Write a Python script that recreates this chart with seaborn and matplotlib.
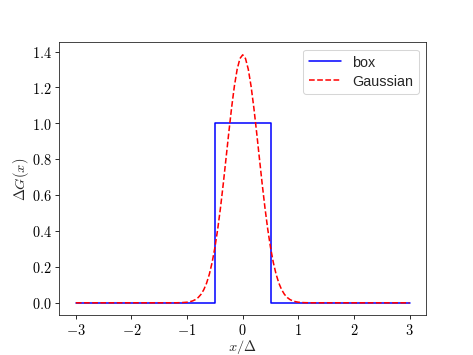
import matplotlib
matplotlib.use("Agg")
import matplotlib.pyplot as plt
import seaborn as sns
import pandas as pd
from matplotlib.ticker import FuncFormatter

# Box filter
box_x = [-3.0, -0.5, -0.5, 0.5, 0.5, 3.0]
box_y = [0.0, 0.0, 1.0, 1.0, 0.0, 0.0]

# Gaussian filter
gauss_x = [-3.0, -1.2, -1.1, -1.0, -0.95, -0.9, -0.85, -0.8, -0.75, -0.7, -0.65, -0.6,
           -0.55, -0.5, -0.45, -0.4, -0.35, -0.3, -0.25, -0.2, -0.15, -0.1, -0.05, 0.0,
           0.05, 0.1, 0.15, 0.2, 0.25, 0.3, 0.35, 0.4, 0.45, 0.5, 0.55, 0.6, 0.65, 0.7,
           0.75, 0.8, 0.85, 0.9, 0.95, 1.0, 1.1, 1.2, 3.0]
gauss_y = [0.0, 0.0002, 0.0010, 0.0034, 0.0062, 0.0107, 0.0181, 0.0297, 0.0473, 0.0731,
           0.1095, 0.1594, 0.2250, 0.3084, 0.4101, 0.5292, 0.6627, 0.8054, 0.9498, 1.0871,
           1.2075, 1.3015, 1.3614, 1.3820, 1.3614, 1.3015, 1.2075, 1.0871, 0.9498, 0.8054,
           0.6627, 0.5292, 0.4101, 0.3084, 0.2250, 0.1594, 0.1095, 0.0731, 0.0473, 0.0297,
           0.0181, 0.0107, 0.0062, 0.0034, 0.0010, 0.0002, 0.0]

sns.set_style("ticks")
plt.rcParams["mathtext.fontset"] = "cm"

fig, ax = plt.subplots(figsize=(6.4, 4.8), dpi=74)
fig.subplots_adjust(left=0.125, right=0.9, top=0.88, bottom=0.112)

box_df = pd.DataFrame({"x": box_x, "y": box_y})
gauss_df = pd.DataFrame({"x": gauss_x, "y": gauss_y})

sns.lineplot(data=box_df, x="x", y="y", ax=ax, color="blue", lw=1.5, sort=False,
             estimator=None, label="box")
sns.lineplot(data=gauss_df, x="x", y="y", ax=ax, color="red", lw=1.5, sort=False,
             estimator=None, label="Gaussian", linestyle="--")

for s in ax.spines.values():
    s.set_visible(True)
    s.set_color("#222222")
    s.set_linewidth(0.8)

ax.set_xticks([-3, -2, -1, 0, 1, 2, 3])
ax.set_yticks([0.0, 0.2, 0.4, 0.6, 0.8, 1.0, 1.2, 1.4])
ax.xaxis.set_major_formatter(FuncFormatter(lambda v, p: f"${v:.0f}$"))
ax.yaxis.set_major_formatter(FuncFormatter(lambda v, p: f"${v:.1f}$"))
ax.tick_params(labelsize=14, colors="black", direction="out", length=3.5, width=0.8)

ax.set_xlabel(r"$x/\Delta$", fontsize=14, labelpad=0)
ax.set_ylabel(r"$\Delta G(x)$", fontsize=14, labelpad=1)

leg = ax.legend(loc="upper right", prop={"family": "Liberation Sans", "size": 14},
                frameon=True, handlelength=2.2, labelspacing=0.35)
leg.get_frame().set_edgecolor("#cccccc")

fig.savefig("out.png", dpi=74)
